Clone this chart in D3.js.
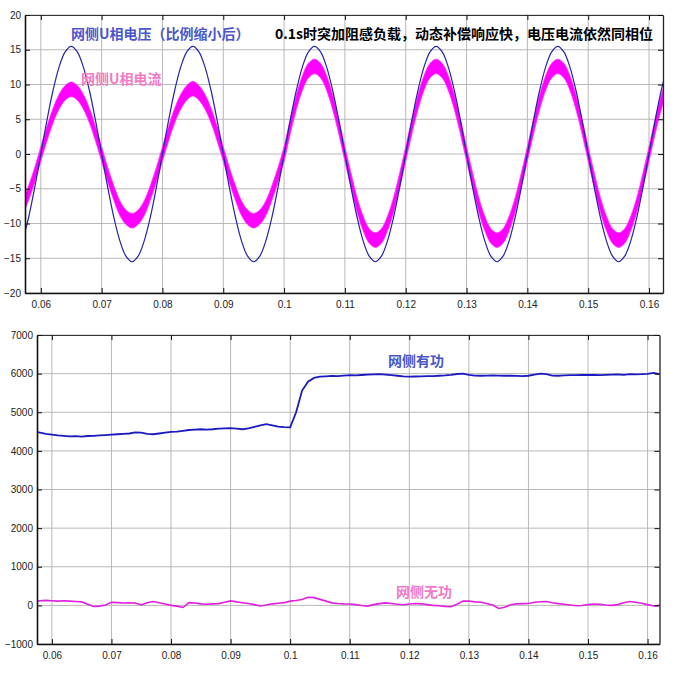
<!DOCTYPE html>
<html><head><meta charset="utf-8">
<script src="https://cdn.jsdelivr.net/npm/d3@7"></script>
<style>
html,body{margin:0;padding:0;background:#fff;}
svg{display:block;}
.tick text{font-family:"Liberation Sans",Arial,sans-serif;font-size:10px;fill:#222;}
.lbl{font-family:"Noto Sans CJK SC",sans-serif;font-weight:bold;font-size:14px;}
</style></head>
<body>
<svg id="c" width="676" height="678"></svg>
<script>
// ---- data (sampled every 1 ms, from 0.057 s to 0.163 s) ----
const timeStart = 0.057, timeStep = 0.001, sampleCount = 107;

// grid U-phase voltage (scaled down)
const voltage = [
 -12.5,-9.1,-4.8,0,4.8,9.1,12.5,14.7,15.5,14.7,
 12.5,9.1,4.8,0,-4.8,-9.1,-12.5,-14.7,-15.5,-14.7,
 -12.5,-9.1,-4.8,0,4.8,9.1,12.5,14.7,15.5,14.7,
 12.5,9.1,4.8,0,-4.8,-9.1,-12.5,-14.7,-15.5,-14.7,
 -12.5,-9.1,-4.8,0,4.8,9.1,12.5,14.7,15.5,14.7,
 12.5,9.1,4.8,0,-4.8,-9.1,-12.5,-14.7,-15.5,-14.7,
 -12.5,-9.1,-4.8,0,4.8,9.1,12.5,14.7,15.5,14.7,
 12.5,9.1,4.8,0,-4.8,-9.1,-12.5,-14.7,-15.5,-14.7,
 -12.5,-9.1,-4.8,0,4.8,9.1,12.5,14.7,15.5,14.7,
 12.5,9.1,4.8,0,-4.8,-9.1,-12.5,-14.7,-15.5,-14.7,
 -12.5,-9.1,-4.8,0,4.8,9.1,12.5
];
// grid U-phase current (centre of the rippled band)
const currentMid = [
 -7.8,-5.6,-3.0,0,2.9,5.5,7.5,8.8,9.3,8.8,
 7.5,5.5,2.9,0,-3.0,-5.6,-7.8,-9.1,-9.6,-9.1,
 -7.8,-5.6,-3.0,0,2.9,5.5,7.5,8.8,9.4,8.8,
 7.5,5.5,2.9,0,-3.0,-5.6,-7.8,-9.1,-9.6,-9.1,
 -7.8,-5.6,-3.0,0,3.9,7.4,10.2,12.0,12.6,12.0,
 10.2,7.4,3.9,0,-3.8,-7.3,-10.0,-11.8,-12.4,-11.8,
 -10.0,-7.3,-3.8,0,3.9,7.4,10.2,12.0,12.6,12.0,
 10.2,7.4,3.9,0,-3.8,-7.3,-10.0,-11.8,-12.4,-11.8,
 -10.0,-7.3,-3.8,0,3.9,7.4,10.2,12.0,12.6,12.0,
 10.2,7.4,3.9,0,-3.8,-7.3,-10.0,-11.8,-12.4,-11.8,
 -10.0,-7.3,-3.8,0,3.9,7.4,10.2
];
const currentRipple = 1.05; // half height of the high-frequency ripple band

// grid active power
const activePower = [
 4500,4470,4440,4420,4400,4390,4375,4380,4370,4385,
 4390,4400,4410,4420,4430,4440,4450,4480,4470,4440,
 4430,4450,4470,4490,4500,4520,4540,4550,4560,4550,
 4560,4575,4585,4590,4575,4560,4580,4620,4660,4690,
 4660,4630,4615,4610,5000,5560,5790,5890,5920,5930,
 5940,5935,5950,5960,5955,5965,5975,5980,5985,5975,
 5960,5945,5930,5920,5925,5930,5935,5935,5945,5955,
 5970,5990,6000,5965,5950,5945,5950,5955,5950,5945,
 5945,5940,5935,5945,5975,6000,5985,5950,5945,5955,
 5960,5960,5965,5970,5965,5960,5970,5975,5980,5970,
 5985,5980,5985,5995,6020,5990,5985
];
// grid reactive power
const reactivePower = [
 110,120,130,120,110,120,110,100,90,30,
 -30,-20,10,80,70,60,65,60,10,70,
 100,70,35,0,-20,-55,70,60,40,30,
 40,45,80,115,90,70,50,20,-15,10,
 40,55,70,110,125,150,210,200,155,110,
 65,50,40,35,20,-5,-20,20,45,65,
 50,30,15,35,50,40,20,0,-10,-25,
 -35,30,110,115,90,80,50,10,-80,-50,
 15,40,45,50,80,95,100,70,45,30,
 10,-10,-5,20,35,25,10,0,20,70,
 100,80,55,20,-15,0,10
];

const xTicks = [0.06,0.07,0.08,0.09,0.1,0.11,0.12,0.13,0.14,0.15,0.16];
const xTickLabels = ["0.06","0.07","0.08","0.09","0.1","0.11","0.12","0.13","0.14","0.15","0.16"];
const yTicksTop = [-20,-15,-10,-5,0,5,10,15,20];
const yTicksBottom = [-1000,0,1000,2000,3000,4000,5000,6000,7000];

const titleVoltage = "网侧U相电压（比例缩小后）";
const titleNote = "0.1s时突加阻感负载，动态补偿响应快，电压电流依然同相位";
const labelCurrent = "网侧U相电流";
const labelActive = "网侧有功";
const labelReactive = "网侧无功";

const times = d3.range(sampleCount).map(i => +(timeStart + i * timeStep).toFixed(3));

// ---- drawing ----
const svg = d3.select("#c");

function panel(id, box, xDom, yDom, yTicks) {
  const x = d3.scaleLinear().domain(xDom).range([box.l, box.r]);
  const y = d3.scaleLinear().domain(yDom).range([box.b, box.t]);
  const g = svg.append("g");
  g.append("clipPath").attr("id", id).append("rect")
    .attr("x", box.l).attr("y", box.t).attr("width", box.r - box.l).attr("height", box.b - box.t);
  // grid
  g.append("g").selectAll("line").data(xTicks).join("line")
    .attr("x1", d => x(d)).attr("x2", d => x(d)).attr("y1", box.t).attr("y2", box.b)
    .attr("stroke", "#b8b8b8").attr("stroke-width", 1);
  g.append("g").selectAll("line").data(yTicks).join("line")
    .attr("x1", box.l).attr("x2", box.r).attr("y1", d => y(d)).attr("y2", d => y(d))
    .attr("stroke", "#b8b8b8").attr("stroke-width", 1);
  const plot = g.append("g").attr("clip-path", `url(#${id})`);
  const axes = g.append("g");
  const fmtX = d => xTickLabels[xTicks.indexOf(d)];
  axes.append("g").attr("transform", `translate(0,${box.b})`)
    .call(d3.axisBottom(x).tickValues(xTicks).tickFormat(fmtX).tickSizeInner(-5).tickSizeOuter(0).tickPadding(8))
    .call(a => a.select(".domain").attr("stroke", "#111").attr("stroke-width", 1.6));
  axes.append("g").attr("transform", `translate(0,${box.t})`)
    .call(d3.axisTop(x).tickValues(xTicks).tickFormat("").tickSizeInner(-5).tickSizeOuter(0))
    .call(a => a.select(".domain").attr("stroke", "#333").attr("stroke-width", 1.2));
  axes.append("g").attr("transform", `translate(${box.l},0)`)
    .call(d3.axisLeft(y).tickValues(yTicks).tickFormat(d3.format("d")).tickSizeInner(-5).tickSizeOuter(0).tickPadding(4))
    .call(a => a.select(".domain").attr("stroke", "#111").attr("stroke-width", 1.6));
  axes.append("g").attr("transform", `translate(${box.r},0)`)
    .call(d3.axisRight(y).tickValues(yTicks).tickFormat("").tickSizeInner(-5).tickSizeOuter(0))
    .call(a => a.select(".domain").attr("stroke", "#222").attr("stroke-width", 1.3));
  axes.selectAll(".tick line").attr("stroke", "#111");
  return {x, y, plot};
}

// top panel
const P1 = panel("clipTop", {l:25, r:663, t:15, b:293}, [0.0574, 0.1623], [-20, 20], yTicksTop);
const band = d3.area()
  .x((d, i) => P1.x(times[i]))
  .y0(d => P1.y(d - currentRipple))
  .y1(d => P1.y(d + currentRipple))
  .curve(d3.curveCatmullRom);
P1.plot.append("path").datum(currentMid).attr("d", band)
  .attr("fill", "#ff00ff").attr("stroke", "#ff30ff").attr("stroke-width", 0.8);
const vLine = d3.line().x((d, i) => P1.x(times[i])).y(d => P1.y(d)).curve(d3.curveCatmullRom);
P1.plot.append("path").datum(voltage).attr("d", vLine)
  .attr("fill", "none").attr("stroke", "#2424a8").attr("stroke-width", 1.2);

// bottom panel
const P2 = panel("clipBot", {l:37, r:659.5, t:335, b:644}, [0.0575, 0.1620], [-1000, 7000], yTicksBottom);
const pLine = d3.line().x((d, i) => P2.x(times[i])).y(d => P2.y(d)).curve(d3.curveLinear);
P2.plot.append("path").datum(activePower).attr("d", pLine)
  .attr("fill", "none").attr("stroke", "#1a1ac0").attr("stroke-width", 1.8);
P2.plot.append("path").datum(reactivePower).attr("d", pLine)
  .attr("fill", "none").attr("stroke", "#e020e0").attr("stroke-width", 1.6);

// labels
svg.append("text").attr("class", "lbl").attr("x", 71).attr("y", 39).attr("fill", "#4a56cc").text(titleVoltage);
svg.append("text").attr("class", "lbl").attr("x", 275).attr("y", 39).attr("fill", "#000").text(titleNote);
svg.append("text").attr("class", "lbl").attr("x", 81).attr("y", 84).attr("fill", "#f27ac6").text(labelCurrent);
svg.append("text").attr("class", "lbl").attr("x", 388).attr("y", 366).attr("fill", "#4a56cc").text(labelActive);
svg.append("text").attr("class", "lbl").attr("x", 396).attr("y", 597).attr("fill", "#f27ac6").text(labelReactive);
</script>
</body></html>
